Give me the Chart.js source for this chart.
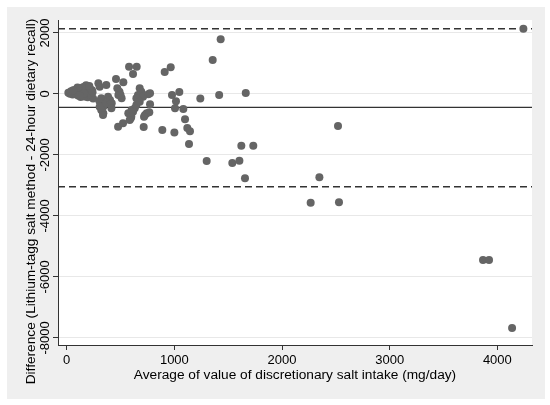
<!DOCTYPE html>
<html>
<head>
<meta charset="utf-8">
<script src="https://cdn.jsdelivr.net/npm/chart.js@4/dist/chart.umd.min.js"></script>
<style>
  html, body { margin: 0; padding: 0; background: #fff; }
  #wrap { width: 550px; height: 405px; }
</style>
</head>
<body>
<div id="wrap"><canvas id="chart" width="550" height="405"></canvas></div>
<script>
// average of the two methods (mg/day)
const avgIntake = [
  15, 30, 40, 55, 65, 75, 85, 95, 105, 110, 120, 130, 140, 150, 155, 165, 175, 185, 195, 205,
  215, 225, 235, 245, 100, 60, 130, 180, 210, 240, 160, 120,
  294, 306, 368, 303, 321, 340, 340, 306, 321, 337, 384, 399, 368, 402, 418, 415,
  458, 526, 470, 490, 480, 510, 500, 477, 523,
  579, 650, 616, 572, 603, 595, 632, 616, 600, 585, 647, 678, 693, 662, 709, 647, 678,
  715, 727, 743, 767, 718, 758, 774, 774,
  966, 910, 978, 1046, 1015, 1006, 1083, 888, 1000, 1099, 1120, 1145, 1136,
  1241, 1356, 1430, 1416, 1663, 1300, 1538, 1604, 1622, 1733, 1656,
  2266, 2347, 2529, 2520, 3867, 3923, 4137, 4242
];
// difference: lithium-tagged salt method minus 24-hour recall (mg/day)
const diffIntake = [
  40, 10, 90, -20, 60, 130, 0, 80, -50, 170, 30, 200, -30, 110, 230, -80, 60, 150, -110, 20,
  180, -40, 120, -150, 210, 120, -100, 290, 260, 60, 20, -60,
  350, 240, 295, -230, -141, -416, -633, -416, -525, -689, -88, -252, -305, -197, -305, -470,
  492, 383, 187, 76, -33, -141, -30, -1071, -961,
  895, 895, 656, -633, -525, -798, -470, -580, -744, -852, -361, 187, 76, -33, -88, -141, -252,
  -1080, -689, -633, -600, -744, -10, -338, 23,
  875, 721, -33, 66, -241, -470, -492, -1180, -1260, -825, -1115, -1225, -1640,
  -148, 1115, 1793, -33, 33, -2197, -2262, -2186, -1694, -1694, -2765,
  -3563, -2732, -3552, -1049, -5443, -5443, -7672, 2141
];

// mean difference and 95% limits of agreement
const meanDiff = -440;
const upperLimit = 2140;
const lowerLimit = -3040;

const xTicks = [0, 1000, 2000, 3000, 4000];
const yTicks = [-8000, -6000, -4000, -2000, 0, 2000];

const xMin = -81, xMax = 4322;
const yMin = -8230, yMax = 2426;

const points = avgIntake.map((x, i) => ({x: x, y: diffIntake[i]}));
const hline = v => [{x: xMin, y: v}, {x: xMax, y: v}];

const plotBg = {
  id: 'plotBg',
  beforeDraw(chart) {
    const ctx = chart.ctx;
    const a = chart.chartArea;
    ctx.save();
    ctx.fillStyle = '#efefef';
    ctx.fillRect(7, 7, 538, 392);
    ctx.fillStyle = '#ffffff';
    ctx.fillRect(a.left, a.top, a.right - a.left, a.bottom - a.top);
    ctx.restore();
  }
};

const lineStyle = {
  type: 'line', showLine: true, pointRadius: 0, borderColor: '#333',
  borderWidth: 1.4, fill: false, order: 2
};

const tickFont = {family: 'Liberation Sans', size: 13};
const titleFont = {family: 'Liberation Sans', size: 13.7};

new Chart(document.getElementById('chart'), {
  type: 'scatter',
  data: {
    datasets: [
      {
        data: points,
        backgroundColor: '#656565',
        borderColor: '#656565',
        pointRadius: 4,
        pointBorderWidth: 0,
        order: 1
      },
      Object.assign({data: hline(meanDiff)}, lineStyle),
      Object.assign({data: hline(upperLimit), borderDash: [7, 4]}, lineStyle),
      Object.assign({data: hline(lowerLimit), borderDash: [7, 4]}, lineStyle)
    ]
  },
  plugins: [plotBg],
  options: {
    responsive: false,
    animation: false,
    layout: {padding: {left: 0, top: 20, right: 18, bottom: 0}},
    plugins: {legend: {display: false}, tooltip: {enabled: false}},
    scales: {
      x: {
        type: 'linear',
        min: xMin,
        max: xMax,
        afterBuildTicks: s => { s.ticks = xTicks.map(v => ({value: v})); },
        afterFit: s => { s.height = 60; },
        ticks: {
          maxRotation: 0,
          padding: 3,
          color: '#000',
          font: tickFont,
          callback: v => String(v)
        },
        grid: {display: true, drawOnChartArea: false, tickLength: 5, tickColor: '#333'},
        border: {display: true, color: '#333', width: 1},
        title: {
          display: true,
          text: 'Average of value of discretionary salt intake (mg/day)',
          color: '#000',
          font: titleFont,
          padding: {top: 0, bottom: 22}
        }
      },
      y: {
        type: 'linear',
        min: yMin,
        max: yMax,
        afterBuildTicks: s => { s.ticks = yTicks.map(v => ({value: v})); },
        afterFit: s => { s.width = 58; },
        ticks: {
          minRotation: 90,
          maxRotation: 90,
          crossAlign: 'center',
          padding: -8.6,
          color: '#000',
          font: tickFont,
          callback: v => String(v)
        },
        grid: {color: '#e8e8e8', tickLength: 5, tickColor: '#333'},
        border: {display: true, color: '#333', width: 1},
        title: {
          display: true,
          // trailing spaces push the centred title down, as in the original
          text: 'Difference (Lithium-tagg salt method - 24-hour dietary recall)          ',
          color: '#000',
          font: titleFont,
          padding: {top: 23, bottom: 0}
        }
      }
    }
  }
});
</script>
</body>
</html>
